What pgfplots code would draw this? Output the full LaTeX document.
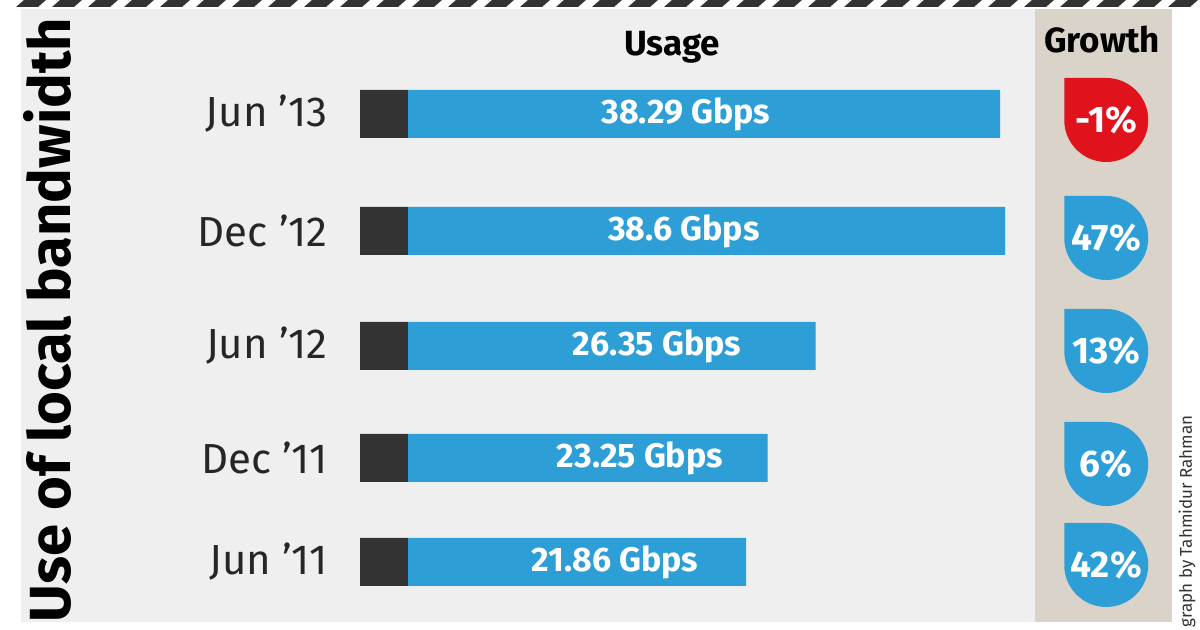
\documentclass[border=0pt]{standalone}
\usepackage{fontspec}
\setmainfont{Fira Sans}
\usepackage{pgfplots}
\pgfplotsset{compat=1.18}
\definecolor{bg}{HTML}{EFEFEF}
\definecolor{beige}{HTML}{DAD3C9}
\definecolor{barblue}{HTML}{2E9FD6}
\definecolor{darkseg}{HTML}{333333}
\definecolor{dropred}{HTML}{E0121B}
\pgfdeclareplotmark{drop}{%
  \pgfpathmoveto{\pgfqpoint{-\pgfplotmarksize}{0pt}}%
  \pgfpathlineto{\pgfqpoint{-\pgfplotmarksize}{\pgfplotmarksize}}%
  \pgfpathlineto{\pgfqpoint{0pt}{\pgfplotmarksize}}%
  \pgfpatharc{90}{-180}{\pgfplotmarksize}%
  \pgfpathclose
  \pgfusepathqfill}
\begin{document}
\begin{tikzpicture}
\begin{scope}[x=0.5pt,y=0.5pt]
\fill[white] (0,0) rectangle (1200,630);
\fill[bg] (21,8) rectangle (1172,621);
\fill[beige] (1035,8) rectangle (1172,621);
\foreach \i in {0,...,32} {
  \fill[darkseg] ({16+36*\i},623) -- ({16+36*\i+22},623) -- ({16+36*\i+30},630) -- ({16+36*\i+8},630) -- cycle;
}
\end{scope}
\begin{axis}[at={(180pt,0pt)}, anchor=south west, scale only axis,
  width=322.5pt, height=315pt,
  xmin=-3.1, xmax=38.6, ymin=-630, ymax=0,
  axis line style={draw=none}, major tick length=0pt,
  xtick=\empty, ytick={-562,-458,-346,-231,-114},
  yticklabels={Jun ’11,Dec ’11,Jun ’12,Dec ’12,Jun ’13},
  every y tick label/.append style={anchor=east, inner sep=0pt, xshift=-16pt,
    font=\fontsize{21}{24}\selectfont, text=black!85},
  clip=false]
\addplot[xbar, fill=barblue, draw=none, bar width=24pt, bar shift=0pt]
  coordinates {(38.29,-114) (38.6,-231) (26.35,-346) (23.25,-458) (21.86,-562)};
\addplot[xbar, fill=darkseg, draw=none, bar width=24pt, bar shift=0pt]
  coordinates {(-3.1,-114) (-3.1,-231) (-3.1,-346) (-3.1,-458) (-3.1,-562)};
\begin{scope}[every node/.style={text=white, font=\bfseries\fontsize{17}{20}\selectfont}]
\node at (axis cs:17.97,-114) {38.29 Gbps};
\node at (axis cs:17.84,-231) {38.6 Gbps};
\node at (axis cs:16.10,-346) {26.35 Gbps};
\node at (axis cs:15.0,-458) {23.25 Gbps};
\node at (axis cs:13.38,-562) {21.86 Gbps};
\end{scope}
\end{axis}
\begin{axis}[at={(517.5pt,0pt)}, anchor=south west, scale only axis,
  width=68.5pt, height=315pt, xmin=-1, xmax=1, ymin=-630, ymax=0,
  hide axis, clip=false,
  point meta=explicit symbolic, nodes near coords, nodes near coords align={center},
  every node near coord/.append style={anchor=center, text=white,
    font=\bfseries\fontsize{18.5}{20}\selectfont}]
\addplot[only marks, mark=drop, mark size=21pt, color=dropred, fill=dropred]
  coordinates {(0.04,-120) [-1\%]};
\addplot[only marks, mark=drop, mark size=21pt, color=barblue, fill=barblue]
  coordinates {(0.04,-238) [47\%] (0.04,-351) [13\%] (0.04,-464) [6\%] (0.04,-565) [42\%]};
\end{axis}
\begin{scope}[x=0.5pt,y=0.5pt]
\node[font=\bfseries\fontsize{17.5}{20}\selectfont] at (672,583) {Usage};
\node[font=\bfseries\fontsize{17.5}{20}\selectfont] at (1102,590) {Growth};
\node[rotate=90, font=\bfseries\fontsize{29}{32}\selectfont] at (47,310) {Use of local bandwidth};
\node[rotate=90, anchor=west, inner sep=0pt, font=\fontsize{8.5}{10}\selectfont, text=black!80] at (1187,2) {graph by Tahmidur Rahman};
\end{scope}
\end{tikzpicture}
\end{document}
